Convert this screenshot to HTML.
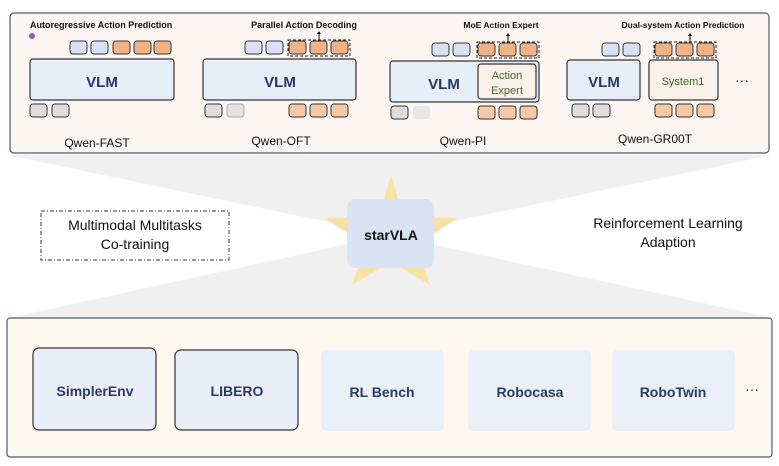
<!DOCTYPE html>
<html><head><meta charset="utf-8"><style>html,body{margin:0;padding:0;background:#fff}svg{display:block}</style></head><body>
<svg width="779" height="466" viewBox="0 0 779 466" xmlns="http://www.w3.org/2000/svg" font-family="Liberation Sans, DejaVu Sans, sans-serif">
<defs>
<g id="tb"><rect width="17" height="13" rx="3" fill="#d7e2f4" stroke="#333" stroke-width="1"/></g>
<g id="to"><rect width="17" height="13" rx="3" fill="#f1b386" stroke="#333" stroke-width="1"/></g>
<g id="tl"><rect width="17" height="13" rx="3" fill="#f6c8a6" stroke="#333" stroke-width="1"/></g>
<g id="tg"><rect width="17" height="13" rx="3" fill="#dedede" stroke="#333" stroke-width="1"/></g>
</defs>
<polygon points="8,155 772,155 389,235" fill="#f0f0f0"/>
<polygon points="389,235 8,318 772,318" fill="#f0f0f0"/>
<rect x="10" y="13" width="759" height="140" rx="4" fill="#fbf6f2" stroke="#4a5a78" stroke-width="1.2"/>
<!-- panel 1 -->
<text x="30" y="28" font-size="9" font-weight="bold" fill="#111">Autoregressive Action Prediction</text>
<circle cx="32" cy="36" r="3" fill="#9b59b6"/>
<use href="#tb" x="70" y="41"/><use href="#tb" x="91" y="41"/><use href="#to" x="113" y="41"/><use href="#to" x="134" y="41"/><use href="#to" x="154" y="41"/>
<rect x="30" y="59" width="144" height="41" rx="3" fill="#e8eef8" stroke="#333" stroke-width="1.2"/>
<text x="102" y="87" font-size="15" font-weight="bold" fill="#24386a" text-anchor="middle">VLM</text>
<use href="#tg" x="30" y="104"/><use href="#tg" x="52" y="104"/>
<text x="97" y="147" font-size="12" fill="#111" text-anchor="middle">Qwen-FAST</text>
<!-- panel 2 -->
<text x="304" y="28" font-size="9" font-weight="bold" fill="#111" text-anchor="middle">Parallel Action Decoding</text>
<use href="#tb" x="245" y="41"/><use href="#tb" x="266" y="41"/><use href="#to" x="289" y="41"/><use href="#to" x="310" y="41"/><use href="#to" x="331" y="41"/>
<rect x="288" y="40" width="62" height="16" fill="none" stroke="#222" stroke-dasharray="3,2"/>
<line x1="319" y1="40" x2="319" y2="33" stroke="#111"/><polygon points="317,34 321,34 319,31" fill="#111"/>
<rect x="203" y="59" width="153" height="41" rx="3" fill="#e8eef8" stroke="#333" stroke-width="1.2"/>
<text x="280" y="87" font-size="15" font-weight="bold" fill="#24386a" text-anchor="middle">VLM</text>
<use href="#tg" x="205" y="104"/><rect x="227" y="104" width="17" height="13" rx="3" fill="#e2e2e2" stroke="#aaa"/>
<use href="#tl" x="289" y="104"/><use href="#tl" x="310" y="104"/><use href="#tl" x="331" y="104"/>
<text x="281" y="145" font-size="12" fill="#111" text-anchor="middle">Qwen-OFT</text>
<!-- panel 3 -->
<text x="501" y="28" font-size="8.5" font-weight="bold" fill="#111" text-anchor="middle">MoE Action Expert</text>
<use href="#tb" x="432" y="43"/><use href="#tb" x="453" y="43"/><use href="#to" x="478" y="43"/><use href="#to" x="499" y="43"/><use href="#to" x="520" y="43"/>
<rect x="477" y="42" width="62" height="16" fill="none" stroke="#222" stroke-dasharray="3,2"/>
<line x1="508" y1="42" x2="508" y2="35" stroke="#111"/><polygon points="506,36 510,36 508,33" fill="#111"/>
<rect x="390" y="61" width="149" height="41" rx="3" fill="#e8eef8" stroke="#333" stroke-width="1.2"/>
<text x="444" y="89" font-size="15" font-weight="bold" fill="#24386a" text-anchor="middle">VLM</text>
<rect x="478" y="64" width="58" height="35" rx="3" fill="#faf2ea" stroke="#333" stroke-width="1.2"/>
<text x="507" y="79" font-size="11" fill="#3f6b25" text-anchor="middle">Action</text>
<text x="507" y="94" font-size="11" fill="#3f6b25" text-anchor="middle">Expert</text>
<use href="#tg" x="391" y="106"/><rect x="413" y="106" width="17" height="13" rx="3" fill="#e6e6e6"/>
<use href="#tl" x="478" y="106"/><use href="#tl" x="499" y="106"/><use href="#tl" x="520" y="106"/>
<text x="463" y="145" font-size="12" fill="#111" text-anchor="middle">Qwen-PI</text>
<!-- panel 4 -->
<text x="683" y="28" font-size="8.5" font-weight="bold" fill="#111" text-anchor="middle">Dual-system Action Prediction</text>
<use href="#tb" x="602" y="43"/><use href="#tb" x="623" y="43"/><use href="#to" x="655" y="43"/><use href="#to" x="676" y="43"/><use href="#to" x="697" y="43"/>
<rect x="654" y="42" width="62" height="16" fill="none" stroke="#222" stroke-dasharray="3,2"/>
<line x1="690" y1="42" x2="690" y2="35" stroke="#111"/><polygon points="688,36 692,36 690,33" fill="#111"/>
<rect x="567" y="60" width="73" height="40" rx="3" fill="#e8eef8" stroke="#333" stroke-width="1.2"/>
<text x="604" y="87" font-size="15" font-weight="bold" fill="#24386a" text-anchor="middle">VLM</text>
<rect x="649" y="60" width="69" height="40" rx="3" fill="#faf2ea" stroke="#333" stroke-width="1.2"/>
<text x="683" y="85" font-size="11" fill="#3f6b25" text-anchor="middle">System1</text>
<use href="#tg" x="572" y="104"/><use href="#tg" x="593" y="104"/>
<use href="#tl" x="655" y="104"/><use href="#tl" x="676" y="104"/><use href="#tl" x="697" y="104"/>
<text x="655" y="143" font-size="12" fill="#111" text-anchor="middle">Qwen-GR00T</text>
<text x="742" y="85" font-size="14" fill="#111" text-anchor="middle">···</text>
<!-- middle -->
<rect x="41" y="211" width="188" height="49" fill="#fff" stroke="#333" stroke-dasharray="4,2,1,2"/>
<text x="135" y="230" font-size="14" fill="#111" text-anchor="middle">Multimodal Multitasks</text>
<text x="135" y="249" font-size="14" fill="#111" text-anchor="middle">Co-training</text>
<polygon points="391,175 403,217 458,218 416,245 430,285 391,262 352,285 366,245 324,218 379,217" fill="#f7e2a6"/>
<rect x="347" y="199" width="87" height="69" rx="8" fill="#dae3f3"/>
<text x="391" y="240" font-size="14" font-weight="bold" fill="#111" text-anchor="middle">starVLA</text>
<text x="668" y="228" font-size="14" fill="#111" text-anchor="middle">Reinforcement Learning</text>
<text x="668" y="247" font-size="14" fill="#111" text-anchor="middle">Adaption</text>
<!-- bottom -->
<rect x="7" y="318" width="765" height="139" rx="3" fill="#fdf8ee" stroke="#4a5a78" stroke-width="1.2"/>
<rect x="33" y="348" width="123" height="82" rx="6" fill="#e9eef8" stroke="#333" stroke-width="1.2"/>
<rect x="175" y="350" width="123" height="80" rx="6" fill="#e9eef8" stroke="#333" stroke-width="1.2"/>
<rect x="321" y="350" width="123" height="81" rx="6" fill="#eaeff8"/>
<rect x="468" y="350" width="123" height="81" rx="6" fill="#eaeff8"/>
<rect x="612" y="350" width="123" height="81" rx="6" fill="#eaeff8"/>
<g font-size="14" font-weight="bold" fill="#2b3b63" text-anchor="middle">
<text x="95" y="396">SimplerEnv</text>
<text x="237" y="396">LIBERO</text>
<text x="382" y="397">RL Bench</text>
<text x="530" y="397">Robocasa</text>
<text x="673" y="397">RoboTwin</text>
</g>
<text x="752" y="394" font-size="14" fill="#111" text-anchor="middle">···</text>
</svg>
</body></html>
